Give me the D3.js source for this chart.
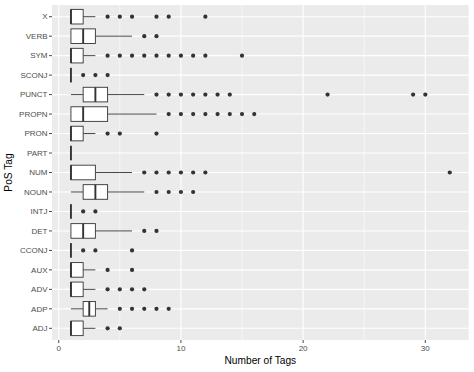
<!DOCTYPE html>
<html>
<head>
<meta charset="utf-8">
<script src="https://cdn.jsdelivr.net/npm/d3@7"></script>
<style>
body { margin: 0; background: #fff; }
text { font-family: "Liberation Sans", Arial, sans-serif; }
</style>
</head>
<body>
<div class="container"></div>
<script>
const WIDTH = 474;
const HEIGHT = 372;

// bottom to top, as in the chart
var tags      = ["ADJ","ADP","ADV","AUX","CCONJ","DET","INTJ","NOUN","NUM","PART","PRON","PROPN","PUNCT","SCONJ","SYM","VERB","X"];
var lowWhisk  = [1, 1, 1, 1, 1, 1, 1, 1, 1, 1, 1, 1, 1, 1, 1, 1, 1];
var q1        = [1, 2, 1, 1, 1, 1, 1, 2, 1, 1, 1, 1, 2, 1, 1, 1, 1];
var medians   = [1, 2.5, 1, 1, 1, 2, 1, 3, 1, 1, 1, 2, 3, 1, 1, 2, 1];
var q3        = [2, 3, 2, 2, 1, 3, 1, 4, 3, 1, 2, 4, 4, 1, 2, 3, 2];
var highWhisk = [3, 4, 3, 3, 1, 6, 1, 7, 6, 1, 3, 8, 7, 1, 3, 6, 3];
var outliers  = [
    [4, 5],
    [5, 6, 7, 8, 9],
    [4, 5, 6, 7],
    [4, 6],
    [2, 3, 6],
    [7, 8],
    [2, 3],
    [8, 9, 10, 11],
    [7, 8, 9, 10, 11, 12, 32],
    [],
    [4, 5, 8],
    [9, 10, 11, 12, 13, 14, 15, 16],
    [8, 9, 10, 11, 12, 13, 14, 22, 29, 30],
    [2, 3, 4],
    [4, 5, 6, 7, 8, 9, 10, 11, 12, 15],
    [7, 8],
    [4, 5, 6, 8, 9, 12]
];
var xTicks = [0, 10, 20, 30];
var xMinor = [5, 15, 25];

var load = function(){
    var margin = {left: 52, right: 5.3, top: 5, bottom: 32};
    var pw = WIDTH - margin.left - margin.right;
    var ph = HEIGHT - margin.top - margin.bottom;

    var rows = tags.map(function(t, i){
        return {tag: t, lo: lowWhisk[i], q1: q1[i], med: medians[i], q3: q3[i], hi: highWhisk[i], out: outliers[i]};
    });

    var x_scale = d3.scaleLinear()
        .domain([1 - 31 * 0.05, 32 + 31 * 0.05])
        .range([0, pw]);

    var y_scale = d3.scaleBand()
        .domain(tags)
        .range([ph, 0])
        .paddingInner(0)
        .paddingOuter(0.1);
    var bw = y_scale.bandwidth();

    var svg = d3.select(".container")
        .append("svg")
        .attr("height", HEIGHT)
        .attr("width", WIDTH);

    var g = svg.append("g")
        .attr("transform", "translate(" + margin.left + "," + margin.top + ")");

    g.append("rect")
        .attr("width", pw)
        .attr("height", ph)
        .attr("fill", "#EBEBEB");

    g.selectAll(".minor")
        .data(xMinor)
        .enter().append("line")
        .attr("x1", function(d){ return x_scale(d)})
        .attr("x2", function(d){ return x_scale(d)})
        .attr("y1", 0).attr("y2", ph)
        .style("stroke", "#fff").style("stroke-width", 0.55);

    g.selectAll(".vmajor")
        .data(xTicks)
        .enter().append("line")
        .attr("x1", function(d){ return x_scale(d)})
        .attr("x2", function(d){ return x_scale(d)})
        .attr("y1", 0).attr("y2", ph)
        .style("stroke", "#fff").style("stroke-width", 1.1);

    g.selectAll(".hmajor")
        .data(tags)
        .enter().append("line")
        .attr("x1", 0).attr("x2", pw)
        .attr("y1", function(d){ return y_scale(d) + bw / 2})
        .attr("y2", function(d){ return y_scale(d) + bw / 2})
        .style("stroke", "#fff").style("stroke-width", 1.1);

    var boxH = bw * 0.75;
    var b = g.selectAll(".box")
        .data(rows)
        .enter().append("g")
        .attr("transform", function(d){ return "translate(0," + (y_scale(d.tag) + bw / 2) + ")"});

    b.append("line")
        .attr("x1", function(d){ return x_scale(d.lo)})
        .attr("x2", function(d){ return x_scale(d.q1)})
        .style("stroke", "#333").style("stroke-width", 0.9);
    b.append("line")
        .attr("x1", function(d){ return x_scale(d.q3)})
        .attr("x2", function(d){ return x_scale(d.hi)})
        .style("stroke", "#333").style("stroke-width", 0.9);
    b.append("rect")
        .attr("x", function(d){ return x_scale(d.q1)})
        .attr("y", -boxH / 2)
        .attr("width", function(d){ return x_scale(d.q3) - x_scale(d.q1)})
        .attr("height", boxH)
        .attr("fill", "#fff")
        .style("stroke", "#333").style("stroke-width", 0.9);
    b.append("line")
        .attr("x1", function(d){ return x_scale(d.med)})
        .attr("x2", function(d){ return x_scale(d.med)})
        .attr("y1", -boxH / 2).attr("y2", boxH / 2)
        .style("stroke", "#333").style("stroke-width", 1.9);

    b.selectAll("circle")
        .data(function(d){ return d.out})
        .enter().append("circle")
        .attr("cx", function(d){ return x_scale(d)})
        .attr("r", 2.1)
        .attr("fill", "#333");

    // axes
    var yAxis = g.selectAll(".ytick")
        .data(tags)
        .enter().append("g")
        .attr("transform", function(d){ return "translate(0," + (y_scale(d) + bw / 2) + ")"});
    yAxis.append("line")
        .attr("x1", -3).attr("x2", 0)
        .style("stroke", "#333").style("stroke-width", 0.9);
    yAxis.append("text")
        .attr("x", -4.5)
        .attr("dy", "0.35em")
        .attr("text-anchor", "end")
        .attr("font-size", 8)
        .attr("fill", "#4D4D4D")
        .text(function(d){ return d});

    var xAxis = g.selectAll(".xtick")
        .data(xTicks)
        .enter().append("g")
        .attr("transform", function(d){ return "translate(" + x_scale(d) + "," + ph + ")"});
    xAxis.append("line")
        .attr("y1", 0).attr("y2", 3)
        .style("stroke", "#333").style("stroke-width", 0.9);
    xAxis.append("text")
        .attr("y", 10.8)
        .attr("text-anchor", "middle")
        .attr("font-size", 8)
        .attr("fill", "#4D4D4D")
        .text(function(d){ return d});

    svg.append("text")
        .attr("x", margin.left + pw / 2)
        .attr("y", 363.5)
        .attr("text-anchor", "middle")
        .attr("font-size", 10.2)
        .attr("fill", "#000")
        .text("Number of Tags");

    svg.append("text")
        .attr("transform", "translate(12," + (margin.top + ph / 2) + ") rotate(-90)")
        .attr("text-anchor", "middle")
        .attr("font-size", 10.2)
        .attr("fill", "#000")
        .text("PoS Tag");
};

window.onload = load;
</script>
</body>
</html>
